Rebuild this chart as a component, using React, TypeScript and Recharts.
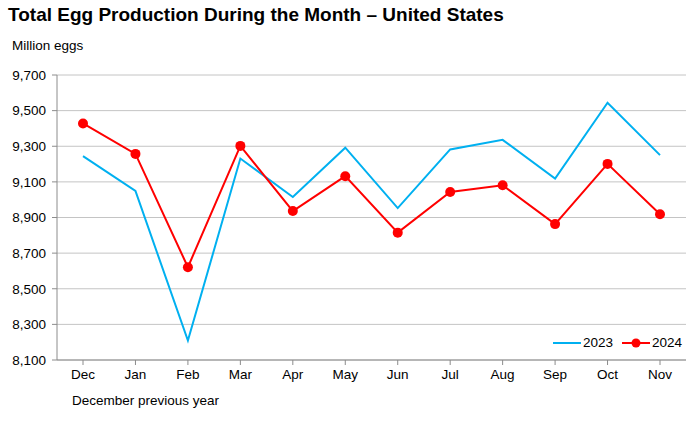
import React from 'react';
import { LineChart, Line, XAxis, YAxis, CartesianGrid } from 'recharts';

const months = ['Dec', 'Jan', 'Feb', 'Mar', 'Apr', 'May', 'Jun', 'Jul', 'Aug', 'Sep', 'Oct', 'Nov'];
const eggs2023 = [9245, 9049, 8209, 9231, 9015, 9292, 8953, 9282, 9336, 9119, 9544, 9250];
const eggs2024 = [9428, 9257, 8621, 9302, 8936, 9132, 8815, 9043, 9081, 8863, 9201, 8918];
const yTicks = [8100, 8300, 8500, 8700, 8900, 9100, 9300, 9500, 9700];

const BLUE = '#00b0f0';
const RED = '#ff0000';
const FONT = '"Liberation Sans", Arial, sans-serif';
const FS = 13.5;

const data = months.map((m, i) => ({ month: m, y2023: eggs2023[i], y2024: eggs2024[i] }));

// legend sits inside the plot, bottom right
const LegendBox = () => (
  <div
    style={{
      position: 'absolute',
      left: 553,
      top: 335,
      display: 'flex',
      alignItems: 'center',
      fontSize: FS,
      color: '#000',
      lineHeight: '16px',
    }}
  >
    <svg width={28} height={12}>
      <line x1={0} y1={6} x2={28} y2={6} stroke={BLUE} strokeWidth={2} />
    </svg>
    <span style={{ marginLeft: 2, marginRight: 9 }}>2023</span>
    <svg width={28} height={12}>
      <line x1={0} y1={6} x2={28} y2={6} stroke={RED} strokeWidth={2} />
      <circle cx={14} cy={6} r={4.5} fill={RED} />
    </svg>
    <span style={{ marginLeft: 2 }}>2024</span>
  </div>
);

export default function App() {
  return (
    <div style={{ position: 'absolute', left: 0, top: 0, width: 700, height: 440, background: '#fff', fontFamily: FONT }}>
      <LineChart width={700} height={440} data={data} margin={{ top: 75, right: 14, left: 0, bottom: 50 }}>
        <CartesianGrid vertical={false} stroke="#c4c4c4" strokeWidth={1} />
        <XAxis
          dataKey="month"
          height={30}
          padding={{ left: 26, right: 26 }}
          axisLine={{ stroke: '#8c8c8c' }}
          tickLine={{ stroke: '#8c8c8c' }}
          tickSize={5}
          tickMargin={4}
          tick={{ fill: '#000', fontSize: FS, fontFamily: FONT }}
          interval={0}
        />
        <YAxis
          width={57}
          domain={[8100, 9700]}
          ticks={yTicks}
          axisLine={{ stroke: '#8c8c8c' }}
          tickLine={{ stroke: '#8c8c8c' }}
          tickSize={5}
          tickMargin={6}
          tick={{ fill: '#000', fontSize: FS, fontFamily: FONT }}
          tickFormatter={(v: number) => v.toLocaleString('en-US')}
        />
        <Line
          type="linear"
          dataKey="y2023"
          name="2023"
          stroke={BLUE}
          strokeWidth={2}
          dot={false}
          isAnimationActive={false}
        />
        <Line
          type="linear"
          dataKey="y2024"
          name="2024"
          stroke={RED}
          strokeWidth={2}
          dot={{ r: 5, fill: RED, stroke: RED, strokeWidth: 0 }}
          isAnimationActive={false}
        />
      </LineChart>
      <div style={{ position: 'absolute', left: 8, top: 4, fontSize: 19, fontWeight: 'bold', color: '#000', whiteSpace: 'nowrap' }}>
        Total Egg Production During the Month – United States
      </div>
      <div style={{ position: 'absolute', left: 12, top: 38, fontSize: FS, color: '#000' }}>Million eggs</div>
      <div style={{ position: 'absolute', left: 72, top: 393, fontSize: FS, color: '#000' }}>December previous year</div>
      <LegendBox />
    </div>
  );
}
